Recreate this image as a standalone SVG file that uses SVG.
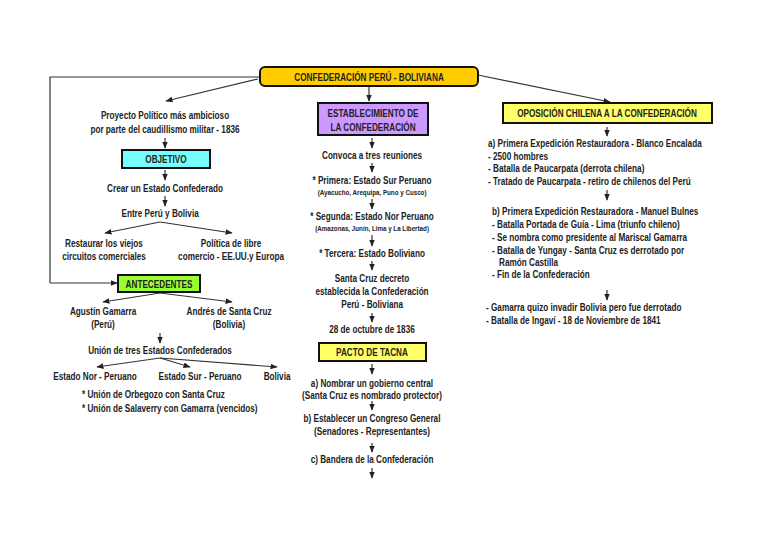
<svg xmlns="http://www.w3.org/2000/svg" width="768" height="543" viewBox="0 0 768 543">
<style>
text{font-family:"Liberation Sans",Arial,sans-serif;font-weight:bold;font-size:10.5px;fill:#222;transform-box:fill-box;transform:scaleX(0.78)}
.c{text-anchor:middle;transform-origin:center}
.l{text-anchor:start;transform-origin:left center}
.s{font-size:8px}
.bx{stroke:#111;stroke-width:2}
.cn{stroke:#333;stroke-width:1.2;fill:none;marker-end:url(#a)}
.pl{stroke:#333;stroke-width:1.2;fill:none}
</style>
<defs><marker id="a" viewBox="0 0 10 10" refX="9" refY="5" markerWidth="6" markerHeight="6" orient="auto"><path d="M0,1L10,5L0,9z" fill="#222"/></marker></defs>
<rect width="768" height="543" fill="#fff"/>
<g id="connectors">
<path class="pl" d="M260,77H50V283"/><path class="cn" d="M50,283H117"/>
<path class="cn" d="M258,79L166,101"/>
<path class="cn" d="M478,75L610,102"/>
<path class="cn" d="M369,87V101"/>
<path class="cn" d="M165,138V148"/><path class="cn" d="M165,170V180"/><path class="cn" d="M165,196V206"/>
<path class="cn" d="M160,222L105,233"/><path class="cn" d="M160,222L232,233"/>
<path class="cn" d="M160,293L103,302"/><path class="cn" d="M160,293L232,302"/>
<path class="cn" d="M160,333V343"/>
<path class="cn" d="M160,358L97,367"/><path class="cn" d="M160,358L190,367"/><path class="cn" d="M160,358L277,367"/>
<path class="cn" d="M372,138V148"/><path class="cn" d="M372,163V172"/><path class="cn" d="M372,199V209"/><path class="cn" d="M372,235V246"/><path class="cn" d="M372,261V270"/><path class="cn" d="M372,313V322"/>
<path class="cn" d="M372,364V374"/><path class="cn" d="M372,401V410"/><path class="cn" d="M372,443V452"/><path class="cn" d="M372,468V478"/>
<path class="cn" d="M607,127V136"/><path class="cn" d="M607,190V200"/><path class="cn" d="M607,290V300"/>
</g>
<g id="title"><rect class="bx" x="260" y="67" width="218" height="19" rx="5" fill="#FFCC00"/><text class="c" x="369" y="81">CONFEDERACIÓN PERÚ - BOLIVIANA</text></g>
<g id="left">
<text class="c" x="165" y="119">Proyecto Político más ambicioso</text>
<text class="c" x="165" y="133">por parte del caudillismo militar - 1836</text>
<g id="objetivo"><rect class="bx" x="122" y="150" width="88" height="18" fill="#77FFFF"/><text class="c" x="166" y="163">OBJETIVO</text></g>
<text class="c" x="165" y="192">Crear un Estado Confederado</text>
<text class="c" x="160" y="217">Entre Perú y Bolivia</text>
<text class="c" x="104" y="247">Restaurar los viejos</text>
<text class="c" x="104" y="260">circuitos comerciales</text>
<text class="c" x="231" y="247">Política de libre</text>
<text class="c" x="231" y="260">comercio - EE.UU.y Europa</text>
<g id="antecedentes"><rect class="bx" x="118" y="275" width="82" height="17" fill="#99FF33"/><text class="c" x="159" y="288">ANTECEDENTES</text></g>
<text class="c" x="103" y="315">Agustín Gamarra</text>
<text class="c" x="103" y="328">(Perú)</text>
<text class="c" x="229" y="315">Andrés de Santa Cruz</text>
<text class="c" x="229" y="328">(Bolivia)</text>
<text class="c" x="160" y="354">Unión de tres Estados Confederados</text>
<text class="c" x="95" y="380">Estado Nor - Peruano</text>
<text class="c" x="200" y="380">Estado Sur - Peruano</text>
<text class="c" x="277" y="380">Bolivia</text>
<text class="l" x="82" y="398">* Unión de Orbegozo con Santa Cruz</text>
<text class="l" x="82" y="412">* Unión de Salaverry con Gamarra (vencidos)</text>
</g>
<g id="middle">
<g id="establecimiento"><rect class="bx" x="318" y="103" width="110" height="32" fill="#CC99FF"/><text class="c" x="373" y="117">ESTABLECIMIENTO DE</text><text class="c" x="373" y="131">LA CONFEDERACIÓN</text></g>
<text class="c" x="372" y="159">Convoca a tres reuniones</text>
<text class="c" x="372" y="184">* Primera: Estado Sur Peruano</text>
<text class="c s" x="372" y="195">(Ayacucho, Arequipa, Puno y Cusco)</text>
<text class="c" x="372" y="220">* Segunda: Estado Nor Peruano</text>
<text class="c s" x="372" y="231">(Amazonas, Junín, Lima y La Libertad)</text>
<text class="c" x="372" y="257">* Tercera: Estado Boliviano</text>
<text class="c" x="372" y="282">Santa Cruz decreto</text>
<text class="c" x="372" y="295">establecida la Confederación</text>
<text class="c" x="372" y="308">Perú - Boliviana</text>
<text class="c" x="372" y="333">28 de octubre de 1836</text>
<g id="pacto"><rect class="bx" x="319" y="343" width="107" height="18" fill="#FFFF66"/><text class="c" x="372" y="356">PACTO DE TACNA</text></g>
<text class="c" x="372" y="387">a) Nombrar un gobierno central</text>
<text class="c" x="372" y="399">(Santa Cruz es nombrado protector)</text>
<text class="c" x="372" y="422">b) Establecer un Congreso General</text>
<text class="c" x="372" y="435">(Senadores - Representantes)</text>
<text class="c" x="372" y="463">c) Bandera de la Confederación</text>
</g>
<g id="right">
<g id="oposicion"><rect class="bx" x="503" y="103" width="209" height="20" fill="#FFFF66"/><text class="c" x="607" y="117">OPOSICIÓN CHILENA A LA CONFEDERACIÓN</text></g>
<text class="l" x="488" y="147">a) Primera Expedición Restauradora - Blanco Encalada</text>
<text class="l" x="488" y="160">- 2500 hombres</text>
<text class="l" x="488" y="172">- Batalla de Paucarpata (derrota chilena)</text>
<text class="l" x="488" y="185">- Tratado de Paucarpata - retiro de chilenos del Perú</text>
<text class="l" x="492" y="215">b) Primera Expedición Restauradora - Manuel Bulnes</text>
<text class="l" x="492" y="228">- Batalla Portada de Guía - Lima (triunfo chileno)</text>
<text class="l" x="492" y="241">- Se nombra como presidente al Mariscal Gamarra</text>
<text class="l" x="492" y="254">- Batalla de Yungay - Santa Cruz es derrotado por</text>
<text class="l" x="499" y="266">Ramón Castilla</text>
<text class="l" x="492" y="278">- Fin de la Confederación</text>
<text class="l" x="486" y="311">- Gamarra quizo invadir Bolivia pero fue derrotado</text>
<text class="l" x="486" y="324">- Batalla de Ingaví - 18 de Noviembre de 1841</text>
</g>
</svg>
